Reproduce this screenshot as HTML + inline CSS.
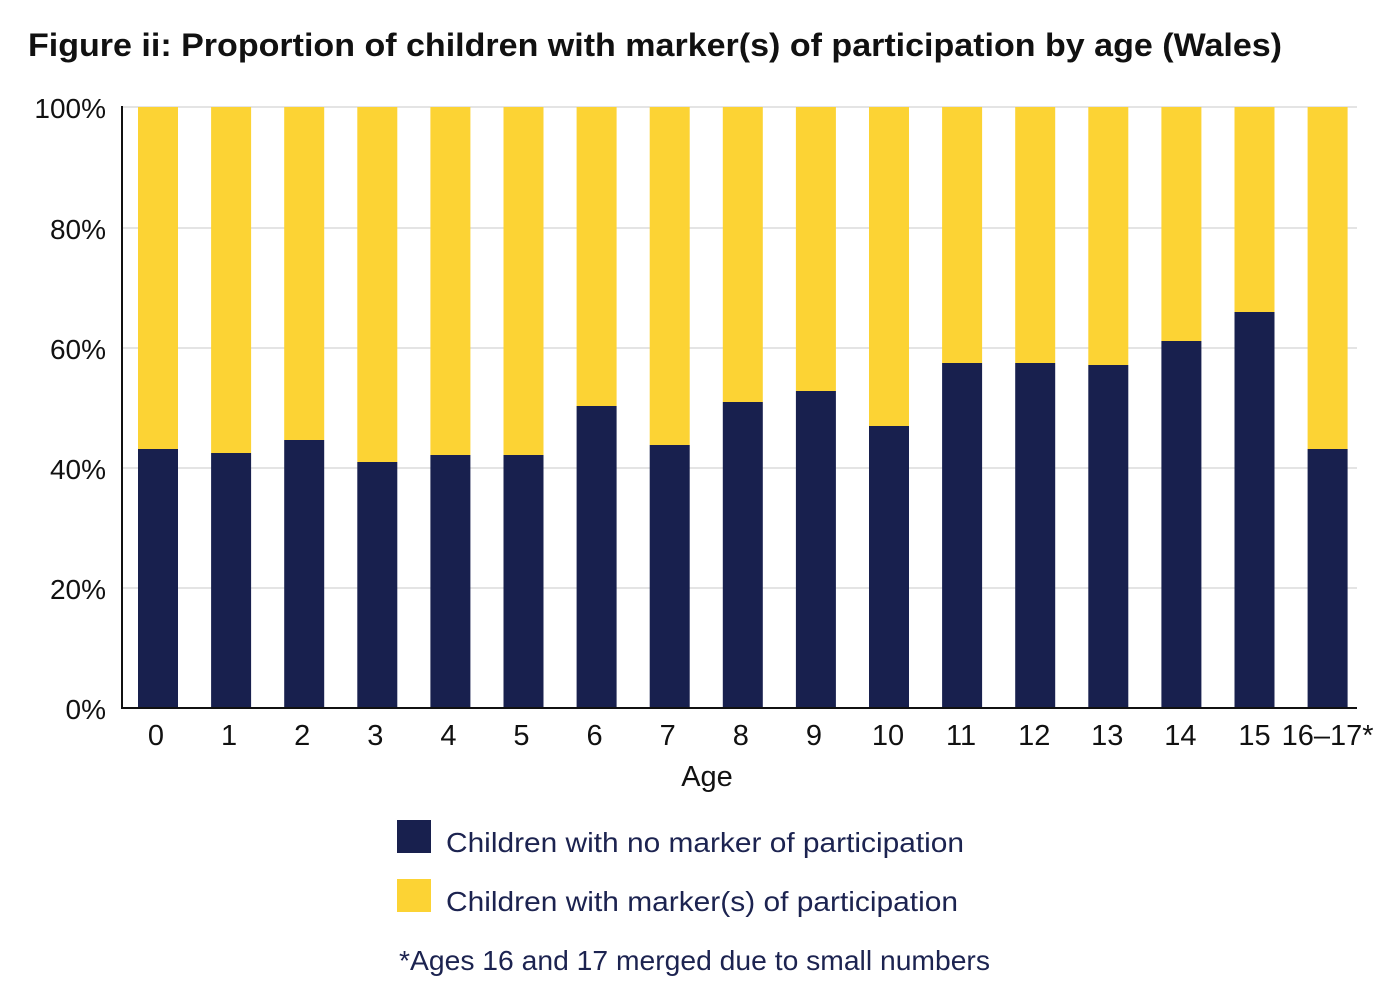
<!DOCTYPE html>
<html><head><meta charset="utf-8"><style>html,body{margin:0;padding:0;background:#fff}svg{display:block}</style></head>
<body>
<svg width="1400" height="996" viewBox="0 0 1400 996" xmlns="http://www.w3.org/2000/svg" font-family="Liberation Sans, sans-serif">
<text x="28" y="56" font-size="32" font-weight="bold" fill="#111" textLength="1254" lengthAdjust="spacingAndGlyphs">Figure ii: Proportion of children with marker(s) of participation by age (Wales)</text>
<g stroke="#dcdcdc" stroke-width="1.5">
<line x1="122" x2="1357" y1="107" y2="107"/><line x1="122" x2="1357" y1="228" y2="228"/><line x1="122" x2="1357" y1="348" y2="348"/><line x1="122" x2="1357" y1="468" y2="468"/><line x1="122" x2="1357" y1="588" y2="588"/>
</g>
<g font-size="28" fill="#111" text-anchor="end">
<text x="106" y="118">100%</text><text x="106" y="239">80%</text><text x="106" y="359">60%</text><text x="106" y="479">40%</text><text x="106" y="599">20%</text><text x="106" y="719">0%</text>
</g>
<g fill="#fcd334">
<rect x="138" y="107" width="40" height="342"/><rect x="211.1" y="107" width="40" height="346"/><rect x="284.2" y="107" width="40" height="333"/><rect x="357.3" y="107" width="40" height="355"/><rect x="430.4" y="107" width="40" height="348"/><rect x="503.5" y="107" width="40" height="348"/><rect x="576.6" y="107" width="40" height="299"/><rect x="649.7" y="107" width="40" height="338"/><rect x="722.8" y="107" width="40" height="295"/><rect x="795.9" y="107" width="40" height="284"/><rect x="869" y="107" width="40" height="319"/><rect x="942.1" y="107" width="40" height="256"/><rect x="1015.2" y="107" width="40" height="256"/><rect x="1088.3" y="107" width="40" height="258"/><rect x="1161.4" y="107" width="40" height="234"/><rect x="1234.5" y="107" width="40" height="205"/><rect x="1307.6" y="107" width="40" height="342"/>
</g>
<g fill="#18204e">
<rect x="138" y="449" width="40" height="259"/><rect x="211.1" y="453" width="40" height="255"/><rect x="284.2" y="440" width="40" height="268"/><rect x="357.3" y="462" width="40" height="246"/><rect x="430.4" y="455" width="40" height="253"/><rect x="503.5" y="455" width="40" height="253"/><rect x="576.6" y="406" width="40" height="302"/><rect x="649.7" y="445" width="40" height="263"/><rect x="722.8" y="402" width="40" height="306"/><rect x="795.9" y="391" width="40" height="317"/><rect x="869" y="426" width="40" height="282"/><rect x="942.1" y="363" width="40" height="345"/><rect x="1015.2" y="363" width="40" height="345"/><rect x="1088.3" y="365" width="40" height="343"/><rect x="1161.4" y="341" width="40" height="367"/><rect x="1234.5" y="312" width="40" height="396"/><rect x="1307.6" y="449" width="40" height="259"/>
</g>
<line x1="122" x2="122" y1="106" y2="709" stroke="#111" stroke-width="2"/>
<line x1="121" x2="1357" y1="708" y2="708" stroke="#111" stroke-width="2"/>
<g font-size="29" fill="#111" text-anchor="middle">
<text x="156" y="745">0</text><text x="229.1" y="745">1</text><text x="302.2" y="745">2</text><text x="375.3" y="745">3</text><text x="448.4" y="745">4</text><text x="521.5" y="745">5</text><text x="594.6" y="745">6</text><text x="667.7" y="745">7</text><text x="740.8" y="745">8</text><text x="813.9" y="745">9</text><text x="888" y="745">10</text><text x="961.1" y="745">11</text><text x="1034.2" y="745">12</text><text x="1107.3" y="745">13</text><text x="1180.4" y="745">14</text><text x="1254.5" y="745">15</text><text x="1327.6" y="745">16–17*</text>
<text x="707" y="786">Age</text>
</g>
<rect x="397" y="820" width="34" height="33" fill="#18204e"/>
<rect x="397" y="879" width="34" height="33" fill="#fcd334"/>
<g font-size="28" fill="#1c2350">
<text x="446" y="852" textLength="518" lengthAdjust="spacingAndGlyphs">Children with no marker of participation</text>
<text x="446" y="911" textLength="512" lengthAdjust="spacingAndGlyphs">Children with marker(s) of participation</text>
<text x="399" y="970" textLength="591" lengthAdjust="spacingAndGlyphs">*Ages 16 and 17 merged due to small numbers</text>
</g>
</svg>
</body></html>
